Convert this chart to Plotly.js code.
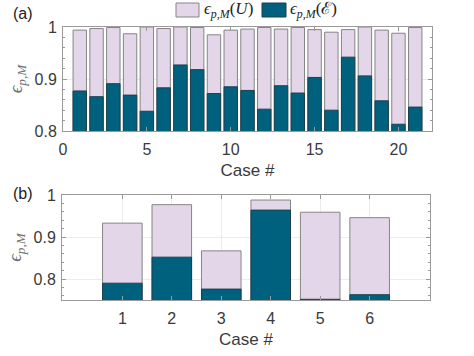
<!DOCTYPE html>
<html><head><meta charset="utf-8">
<script src="https://cdn.plot.ly/plotly-3.0.1.min.js"></script>
<style>html,body{margin:0;padding:0;background:#fff}#c{width:474px;height:356px}</style>
</head><body><div id="c"></div>
<script>
// Panel (a)
const casesA = [1,2,3,4,5,6,7,8,9,10,11,12,13,14,15,16,17,18,19,20,21];
const epsU_A = [0.994,0.997,0.999,0.987,1.0,0.997,1.0,0.999,0.985,0.994,0.996,0.999,0.996,0.999,0.995,0.990,0.995,1.0,0.994,0.988,0.999];
const epsE_A = [0.877,0.866,0.891,0.869,0.838,0.883,0.927,0.918,0.872,0.885,0.878,0.842,0.887,0.873,0.903,0.840,0.942,0.906,0.858,0.813,0.846];
// Panel (b)
const casesB = [1,2,3,4,5,6];
const epsU_B = [0.933,0.977,0.867,0.988,0.959,0.946];
const epsE_B = [0.790,0.852,0.776,0.964,0.7517,0.7626];
const xTicksA = [0,5,10,15,20];
const yTicksA = [0.8,0.9,1];
const yTickTextA = ['0.8','0.9','1'];
const yTicksB = [0.8,0.9,1];
const yTickTextB = ['0.8','0.9','1'];

const cU = '#E4D6E9', cE = '#00617F';
const W = 474, H = 356;
const px = v => v / W, py = v => 1 - v / H;

const traces = [
  {type:'bar', x:casesA, y:epsU_A, width:0.8, marker:{color:cU, line:{color:'#858585', width:1}}, xaxis:'x', yaxis:'y', showlegend:false},
  {type:'bar', x:casesA, y:epsE_A, width:0.8, marker:{color:cE, line:{color:'#1d3f4c', width:1}}, xaxis:'x', yaxis:'y', showlegend:false},
  {type:'bar', x:casesB, y:epsU_B, width:0.8, marker:{color:cU, line:{color:'#858585', width:1}}, xaxis:'x2', yaxis:'y2', showlegend:false},
  {type:'bar', x:casesB, y:epsE_B, width:0.8, marker:{color:cE, line:{color:'#1d3f4c', width:1}}, xaxis:'x2', yaxis:'y2', showlegend:false}
];

const tickFont = {family:'Liberation Sans, Arial, sans-serif', size:16, color:'#3a3a3a'};
const axBase = {
  showline:true, linecolor:'#9a9a9a', linewidth:1, mirror:'ticks',
  ticks:'inside', ticklen:4, tickcolor:'#9a9a9a',
  showgrid:true, gridcolor:'#ececec', zeroline:false, tickfont:tickFont, fixedrange:true
};
const titleFont = {family:'Liberation Sans, Arial, sans-serif', size:17, color:'#3a3a3a'};
const yTitleFont = {family:'Liberation Serif, serif', size:19, color:'#707070'};
const yTitle = '<i>ϵ</i><sub><i>p,M</i></sub>';

const layout = {
  width:W, height:H, margin:{l:0,r:0,t:0,b:0},
  paper_bgcolor:'#fff', plot_bgcolor:'#fff',
  barmode:'overlay', showlegend:false,
  xaxis: Object.assign({}, axBase, {domain:[px(63),px(432)], range:[0,22], tickvals:xTicksA, ticktext:xTicksA.map(String), anchor:'y',
    ticklabelstandoff:4, title:{text:'Case #', font:titleFont, standoff:6}}),
  yaxis: Object.assign({}, axBase, {domain:[py(131),py(27)], range:[0.8,1], tickvals:yTicksA, ticktext:yTickTextA, anchor:'x',
    ticklabelstandoff:2,
    minor:{dtick:0.02, ticks:'inside', ticklen:2, tickcolor:'#9a9a9a', showgrid:false},
    title:{text:yTitle, font:yTitleFont, standoff:6}}),
  xaxis2: Object.assign({}, axBase, {domain:[px(62),px(430)], range:[-0.22,7.22], tickvals:casesB, ticktext:casesB.map(String), anchor:'y2',
    ticklabelstandoff:4, title:{text:'Case #', font:titleFont, standoff:6}}),
  yaxis2: Object.assign({}, axBase, {domain:[py(300),py(195)], range:[0.75,1], tickvals:yTicksB, ticktext:yTickTextB, anchor:'x2',
    ticklabelstandoff:2,
    minor:{dtick:0.02, ticks:'inside', ticklen:2, tickcolor:'#9a9a9a', showgrid:false},
    title:{text:yTitle, font:yTitleFont, standoff:6}}),
  shapes:[
    {type:'rect', xref:'paper', yref:'paper', x0:px(176), x1:px(199), y0:py(17), y1:py(3), fillcolor:cU, line:{color:'#858585', width:1}},
    {type:'rect', xref:'paper', yref:'paper', x0:px(262), x1:px(286), y0:py(17), y1:py(3), fillcolor:cE, line:{color:'#1d3f4c', width:1}}
  ],
  annotations:[
    {xref:'paper', yref:'paper', x:px(202), y:py(10), xanchor:'left', yanchor:'middle', showarrow:false,
     text:'<i>ϵ</i><sub><i>p,M</i></sub>(<i>U</i>)', font:{family:'Liberation Serif, serif', size:17, color:'#222'}},
    {xref:'paper', yref:'paper', x:px(288), y:py(10), xanchor:'left', yanchor:'middle', showarrow:false,
     text:'<i>ϵ</i><sub><i>p,M</i></sub>(ℰ)', font:{family:'Liberation Serif, serif', size:17, color:'#222'}},
    {xref:'paper', yref:'paper', x:px(11), y:py(13), xanchor:'left', yanchor:'middle', showarrow:false,
     text:'(a)', font:{family:'Liberation Sans, Arial, sans-serif', size:16, color:'#222'}},
    {xref:'paper', yref:'paper', x:px(11), y:py(193), xanchor:'left', yanchor:'middle', showarrow:false,
     text:'(b)', font:{family:'Liberation Sans, Arial, sans-serif', size:16, color:'#222'}}
  ]
};
Plotly.newPlot('c', traces, layout, {staticPlot:true, displayModeBar:false});
</script></body></html>
